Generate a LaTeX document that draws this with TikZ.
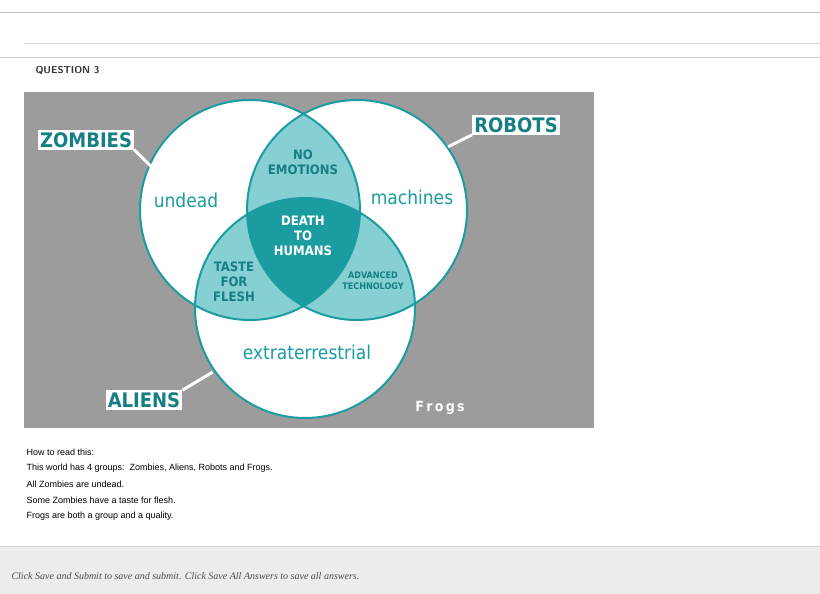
\documentclass[tikz,border=0pt]{standalone}
\usepackage{fontspec}
\setmainfont{Liberation Sans}
\newfontfamily\cond{DejaVu Sans Condensed}
\newfontfamily\ser{Liberation Serif}
\definecolor{teal1}{HTML}{1B9CA1}
\definecolor{teal2}{HTML}{86CFD2}
\definecolor{tealt}{HTML}{167F84}
\definecolor{bg}{HTML}{9C9C9C}
\begin{document}
\begin{tikzpicture}[x=1pt,y=-1pt,
  lbl/.style={fill=white,text=tealt,font=\cond\bfseries\fontsize{20}{20}\selectfont,inner sep=2pt},
  inl/.style={text=teal1,font=\cond\fontsize{19}{19}\selectfont},
  dk/.style={text=white,font=\cond\bfseries\fontsize{13}{15}\selectfont,align=center},
  txt/.style={anchor=west,font=\fontsize{9}{9}\selectfont}]
\useasboundingbox (0,0) rectangle (820,594);
\fill[white] (0,0) rectangle (820,594);
\draw[gray!50] (0,12) -- (820,12);
\draw[gray!30] (24,43) -- (820,43);
\draw[gray!40] (0,57) -- (820,57);
\node[anchor=west,font=\sffamily\bfseries\fontsize{10}{10}\selectfont,text=black!80] (q) at (32,70) {QUESTION 3};
\fill[bg] (24,92) rectangle (594,428);
\coordinate (cz) at (250,210);
\coordinate (cr) at (357,210);
\coordinate (ca) at (305,308);
\def\R{110}
\foreach \c in {cz,cr,ca} \fill[white] (\c) circle (\R);
\begin{scope}\clip (cz) circle (\R); \fill[teal2] (cr) circle (\R); \fill[teal2] (ca) circle (\R);\end{scope}
\begin{scope}\clip (cr) circle (\R); \fill[teal2] (ca) circle (\R);\end{scope}
\begin{scope}\clip (cz) circle (\R); \clip (cr) circle (\R); \fill[teal1] (ca) circle (\R);\end{scope}
\foreach \c in {cz,cr,ca} \draw[teal1,line width=2pt] (\c) circle (\R);
\node[lbl] (z) at (86,140) {ZOMBIES};
\node[lbl] (r) at (516,125) {ROBOTS};
\node[lbl] (a) at (144,400) {ALIENS};
\draw[white,line width=3pt] (z.south east) -- ++(18,18);
\draw[white,line width=3pt] (r.south west) -- ++(-24,12);
\draw[white,line width=3pt] (a.north east) -- ++(30,-18);
\node[inl] (u) at (186,200) {undead};
\node[inl] (m) at (412,197) {machines};
\node[inl] (e) at (307,352) {extraterrestrial};
\node[dk,text=tealt] (ne) at (303,162) {NO\\EMOTIONS};
\node[dk] (dh) at (303,236) {DEATH\\TO\\HUMANS};
\node[dk,text=tealt] (tf) at (234,282) {TASTE\\FOR\\FLESH};
\node[dk,text=tealt,font=\cond\bfseries\fontsize{9}{11}\selectfont] (at) at (373,281) {ADVANCED\\TECHNOLOGY};
\node[text=white,font=\cond\bfseries\fontsize{14}{14}\selectfont] (fr) at (440,408) {F\,r\,o\,g\,s};
\node[txt] (t1) at (23,452) {How to read this:};
\node[txt] (t2) at (23,468) {This world has 4 groups:\ \ Zombies, Aliens, Robots and Frogs.};
\node[txt] (t3) at (23,484) {All Zombies are undead.};
\node[txt] (t4) at (23,500) {Some Zombies have a taste for flesh.};
\node[txt] (t5) at (23,516) {Frogs are both a group and a quality.};
\fill[gray!15] (0,546) rectangle (820,594);
\draw[gray!35] (0,546) -- (820,546);
\node[anchor=west,font=\ser\itshape\fontsize{10}{10}\selectfont,text=black!70] (ft) at (8,576) {Click Save and Submit to save and submit. Click Save All Answers to save all answers.};
\end{tikzpicture}
\end{document}
